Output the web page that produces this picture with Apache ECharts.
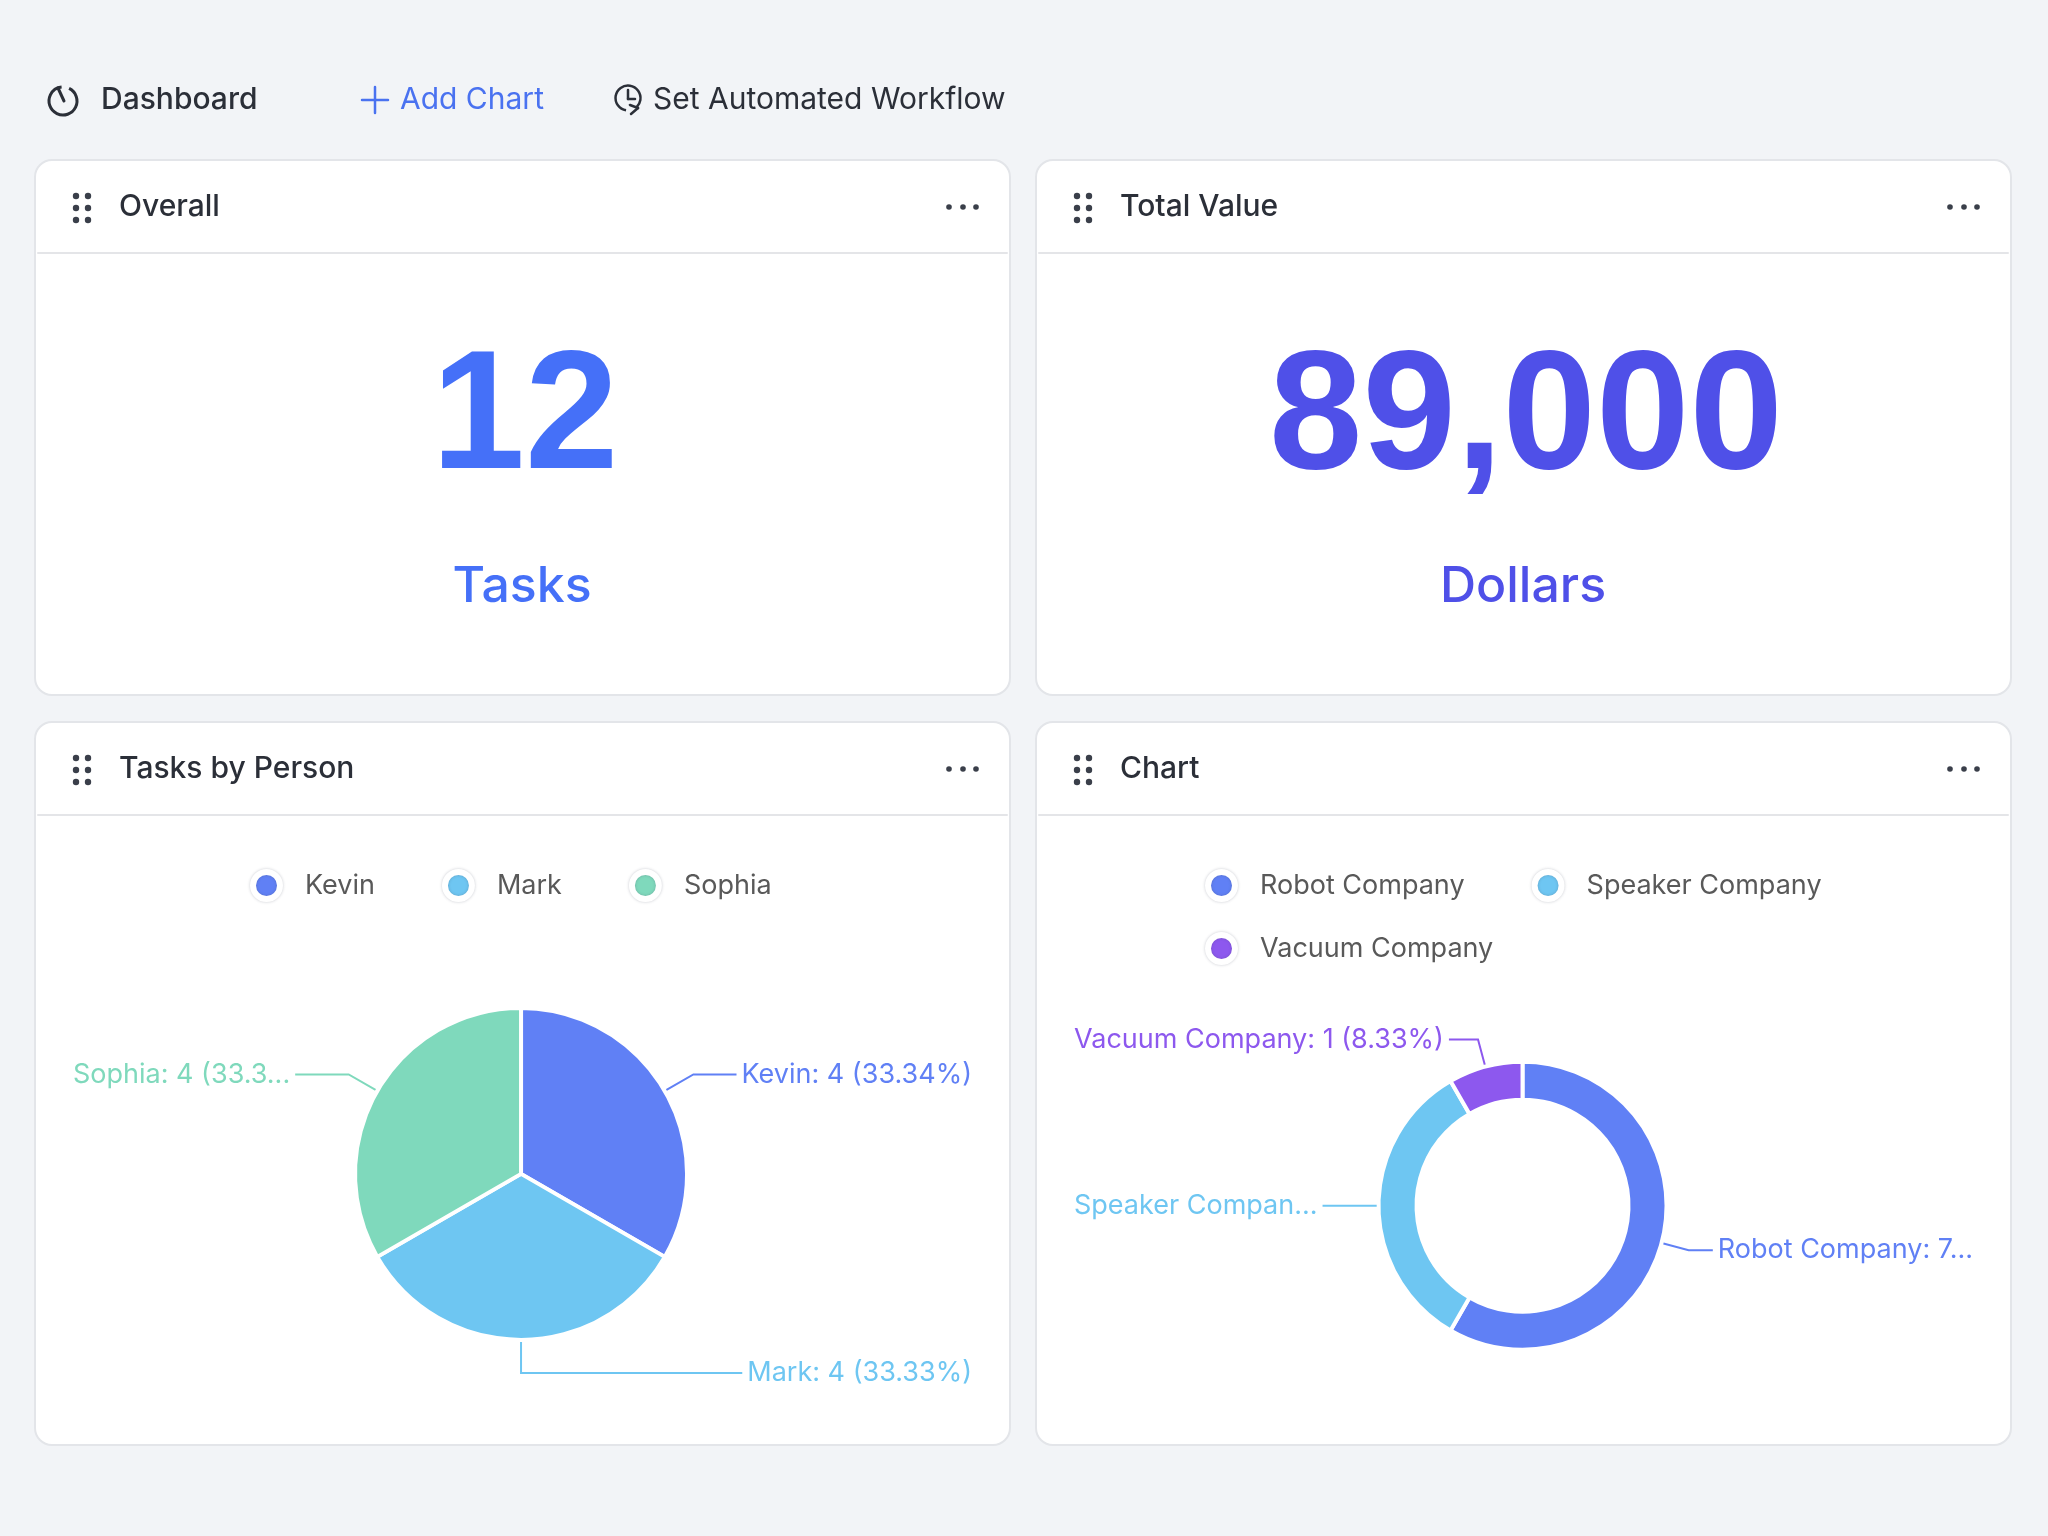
<!DOCTYPE html>
<html>
<head>
<meta charset="utf-8">
<title>Dashboard</title>
<script src="https://cdn.jsdelivr.net/npm/echarts@6/dist/echarts.min.js"></script>
<style>
  html, body { margin: 0; padding: 0; background: #f2f4f7; }
  #chart { width: 2048px; height: 1536px; }
</style>
</head>
<body>
<div id="chart"></div>
<script>
// values
const personNames = ['Kevin', 'Mark', 'Sophia'];
const personValues = [4, 4, 4];
const personColors = ['#6080F5', '#6EC6F2', '#7FD9BC'];

const companyNames = ['Robot Company', 'Speaker Company', 'Vacuum Company'];
const companyValues = [7, 4, 1];
const companyColors = ['#6080F5', '#6EC6F2', '#8D58EE'];

const cardTitles = ['Overall', 'Total Value', 'Tasks by Person', 'Chart'];
const statValues = ['12', '89,000'];
const statUnits = ['Tasks', 'Dollars'];
const statColors = ['#4570F8', '#4F50E8'];

const FONT = 'Inter, "Noto Sans", sans-serif';
const DARK = '#2b2f38';
const CARD_X = [35, 1036];
const CARD_Y = [160, 722];
const CARD_W = 975;
const CARD_H = [535, 723];

const txt = (x, y, text, size, color, weight, align, family) => ({
  type: 'text', x, y, z: 3,
  style: { text, fill: color, font: `${weight} ${size}px ${family || FONT}`, textAlign: align || 'left', textVerticalAlign: 'middle' },
});
const ln = (x1, y1, x2, y2, color, w) => ({
  type: 'line', z: 3, shape: { x1, y1, x2, y2 }, style: { stroke: color, lineWidth: w, lineCap: 'round' },
});
const dot = (cx, cy, r, color) => ({ type: 'circle', z: 3, shape: { cx, cy, r }, style: { fill: color } });

const graphics = [];

// top bar
graphics.push({ type: 'arc', z: 3, shape: { cx: 63, cy: 101, r: 14, startAngle: -Math.PI / 2 + 0.45, endAngle: -Math.PI / 2 - 0.1 }, style: { stroke: DARK, lineWidth: 3, fill: 'none' } });
graphics.push(ln(58, 88, 64, 101, DARK, 3));
graphics.push(txt(101, 100, 'Dashboard', 30, DARK, 500));
graphics.push(ln(375, 87, 375, 113, '#4a72f0', 2.5), ln(362, 100, 388, 100, '#4a72f0', 2.5));
graphics.push(txt(400, 100, 'Add Chart', 30, '#4a72f0', 400));
graphics.push({ type: 'arc', z: 3, shape: { cx: 628, cy: 98, r: 12.5, startAngle: Math.PI * 0.55, endAngle: Math.PI * 0.25 }, style: { stroke: DARK, lineWidth: 2.5, fill: 'none' } });
graphics.push(ln(628, 90, 628, 99, DARK, 2.5), ln(628, 99, 635, 99, DARK, 2.5), ln(630, 105, 638, 108, DARK, 2.5), ln(631, 114, 638, 108, DARK, 2.5));
graphics.push(txt(653, 100, 'Set Automated Workflow', 30, DARK, 400));

// cards
cardTitles.forEach((title, i) => {
  const x = CARD_X[i % 2];
  const row = i < 2 ? 0 : 1;
  const y = CARD_Y[row];
  graphics.push({ type: 'rect', z: 1, shape: { x, y, width: CARD_W, height: CARD_H[row], r: 17 }, style: { fill: '#fff', stroke: '#e3e5e9', lineWidth: 2 } });
  graphics.push(ln(x + 3, y + 93, x + CARD_W - 3, y + 93, '#e4e5e8', 2));
  [36, 48, 60].forEach((dy) => {
    graphics.push(dot(x + 41, y + dy, 3.2, '#3a3f4a'), dot(x + 53, y + dy, 3.2, '#3a3f4a'));
  });
  [914, 928, 941].forEach((dx) => graphics.push(dot(x + dx, y + 47, 2.8, '#3a3f4a')));
  graphics.push(txt(x + 84, y + 47, title, 30, DARK, 500));
});

// big numbers
statValues.forEach((v, i) => {
  const cx = CARD_X[i] + 488;
  graphics.push(txt(cx + 2, 422, v, 168, statColors[i], 700, 'center', '"Liberation Sans Narrow", sans-serif'));
  graphics.push(txt(cx - 1, 587, statUnits[i], 50, statColors[i], 500, 'center'));
});

const legendBase = {
  orient: 'horizontal', padding: 0, itemWidth: 27, itemHeight: 27, itemGap: 67, icon: 'circle',
  itemStyle: { borderColor: '#fff', borderWidth: 6, shadowBlur: 3, shadowColor: 'rgba(60,70,90,0.28)' },
  textStyle: { fontFamily: FONT, fontSize: 27, color: '#595959', padding: [0, 0, 0, 20] },
};

const labelBase = {
  formatter: '{b}: {c} ({d}%)', alignTo: 'edge', edgeDistance: 38, fontFamily: FONT, fontSize: 27,
};

const option = {
  animation: false,
  backgroundColor: '#f2f4f7',
  graphic: { elements: graphics },
  legend: [
    { ...legendBase, left: 250, top: 869, data: personNames },
    { ...legendBase, left: 1205, top: 869, data: companyNames.slice(0, 2) },
    { ...legendBase, left: 1205, top: 932, data: companyNames.slice(2) },
  ],
  series: [
    {
      type: 'pie',
      left: CARD_X[0], top: CARD_Y[1], width: CARD_W, height: CARD_H[1],
      center: ['49.85%', '62.5%'],
      radius: [0, 166],
      percentPrecision: 2,
      itemStyle: { borderColor: '#fff', borderWidth: 4 },
      label: labelBase,
      labelLine: { length: 33, length2: 32, lineStyle: { width: 2 } },
      data: personNames.map((name, i) => ({
        name, value: personValues[i],
        itemStyle: { color: personColors[i] },
        label: { color: personColors[i] },
      })),
    },
    {
      type: 'pie',
      left: CARD_X[1], top: CARD_Y[1], width: CARD_W, height: CARD_H[1],
      center: ['49.9%', '66.9%'],
      radius: [106, 144],
      percentPrecision: 2,
      itemStyle: { borderColor: '#fff', borderWidth: 4 },
      label: labelBase,
      labelLine: { length: 28, length2: 18, lineStyle: { width: 2 } },
      data: companyNames.map((name, i) => ({
        name, value: companyValues[i],
        itemStyle: { color: companyColors[i] },
        label: { color: companyColors[i] },
      })),
    },
  ],
};

echarts.init(document.getElementById('chart')).setOption(option);
</script>
</body>
</html>
